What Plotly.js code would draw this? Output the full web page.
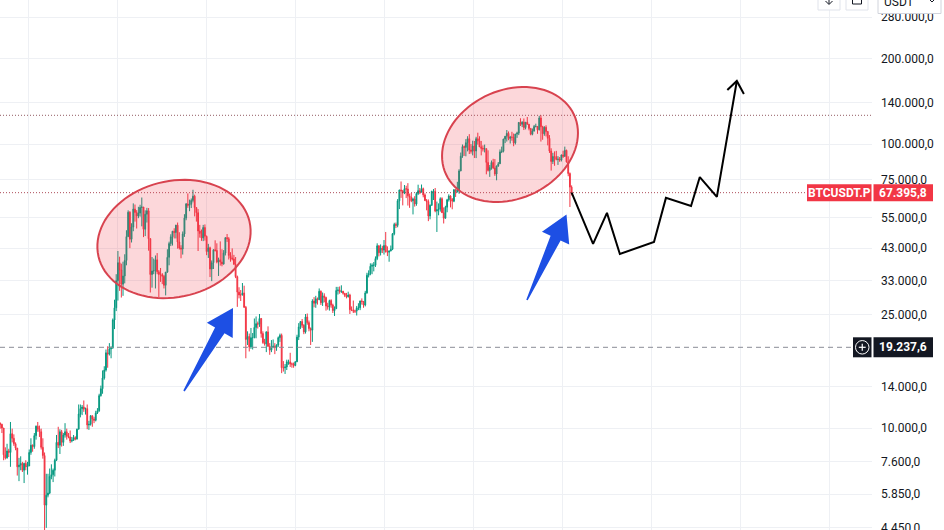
<!DOCTYPE html>
<html><head><meta charset="utf-8">
<script src="https://cdn.plot.ly/plotly-3.0.1.min.js"></script>
<style>html,body{margin:0;padding:0;background:#fff;overflow:hidden}#chart{width:944px;height:530px}</style>
</head><body><div id="chart"></div>
<script>
// BTCUSDT.P weekly candles, prices in thousands of USDT
const firstWeek = '2019-09-09';
const firstOpen = 10.4;
const closes = [
 10.3,10.0,8.05,7.85,8.3,8.2,9.55,9.2,8.8,8.5,7.3,7.4,7.5,7.1,7.5,7.3,7.35,
 8.2,8.7,8.6,9.4,10.15,9.9,9.7,8.55,8.0,5.35,5.8,5.9,6.75,6.85,7.1,7.7,8.9,8.7,9.7,8.9,9.45,9.7,9.35,9.3,9.0,9.05,9.25,9.15,9.9,11.2,11.7,11.85,11.65,11.7,10.25,10.3,11.05,10.75,10.65,11.3,11.5,13.0,13.75,15.0,16.0,18.4,18.2,19.0,19.15,24.0,26.5,33.0,
 38.2,36.0,32.1,34.3,38.9,47.2,57.5,46.2,51.0,59.0,57.4,55.8,57.1,59.8,60.0,50.1,56.6,58.2,46.4,34.7,35.7,35.8,39.1,35.5,34.7,34.7,34.2,31.8,35.4,39.9,44.6,47.1,49.3,48.8,51.8,45.2,43.0,42.7,48.2,54.9,61.5,60.8,61.3,63.3,65.5,59.7,57.3,49.4,48.4,46.7,50.8,47.3,
 41.8,43.1,36.3,38.2,42.4,42.2,38.4,39.1,38.4,37.8,41.3,46.8,46.4,40.5,39.7,39.4,37.7,34.1,30.1,29.4,29.4,29.9,26.6,20.5,21.0,19.3,20.8,20.8,22.6,23.3,23.2,24.3,21.5,20.0,19.8,21.8,19.4,18.8,19.3,19.4,19.2,19.6,20.8,21.2,16.3,16.3,16.4,17.1,17.1,16.8,16.8,16.6,
 17.1,20.9,22.7,23.7,23.0,21.8,24.6,23.5,22.4,22.1,28.0,27.5,28.5,28.3,30.3,27.6,29.2,28.8,26.9,26.7,28.1,27.1,25.9,26.3,30.5,30.6,30.2,30.3,29.8,29.3,29.0,29.4,26.1,26.0,25.8,25.8,26.5,26.5,28.0,27.9,27.1,29.9,34.5,35.0,37.1,37.4,37.4,39.5,43.8,41.4,43.0,42.3,
 43.9,41.7,41.6,42.0,42.6,48.3,52.1,51.7,63.1,68.9,68.4,67.2,69.6,69.4,65.7,64.9,63.1,64.0,61.5,66.9,68.5,67.7,69.6,66.2,63.2,62.7,55.8,60.8,68.2,68.2,58.1,58.7,59.0,64.2,57.3,54.8,59.9,63.6,65.6,63.9,62.9,69.0,67.9,68.7,80.4,90.6,97.9,97.3,101.1,104.4,95.2,94.3,98.3,
 94.5,104.4,102.6,97.7,96.5,96.1,96.3,86.1,80.7,82.6,86.1,82.4,78.4,83.7,85.2,93.8,94.3,104.1,106.5,109.0,104.6,105.7,105.6,100.9,108.4,109.2,119.1,117.3,119.4,114.2,119.3,117.4,113.5,108.2,111.1,115.3,115.3,112.2,123.5,115.0,108.7,114.5,110.6,104.7,94.5,86.8,90.4,90.3,88.2,88.4,87.8,91.5,
 90.5,95.0,86.5,78.7,70.5,67.3958
];
const highs = [
 10.45,10.35,10.0,8.55,8.8,8.45,10.5,9.95,9.5,8.9,8.5,7.85,7.95,7.6,7.55,7.7,7.6,
 8.4,9.2,8.75,9.6,10.2,10.5,10.2,9.95,9.2,8.2,6.9,6.9,7.2,7.45,7.2,7.8,9.45,10.1,9.9,9.85,9.6,10.4,9.95,9.6,9.8,9.3,9.45,9.35,9.95,12.1,12.1,12.05,12.5,11.8,12.1,10.6,11.1,11.05,10.95,11.5,11.75,13.2,14.1,15.95,16.5,18.9,19.4,19.9,19.4,24.3,28.3,34.8,
 42.0,40.1,37.9,38.5,40.9,49.7,58.4,58.0,52.6,61.8,61.2,58.5,60.1,61.1,64.8,57.5,58.4,59.6,59.5,46.6,40.0,39.5,40.5,41.3,36.0,36.6,35.1,34.6,35.4,42.6,45.3,48.1,49.4,50.5,51.9,52.9,48.9,44.0,49.2,56.6,62.0,67.0,63.7,64.3,69.0,66.3,59.4,59.0,51.9,50.0,51.9,52.1,
 47.6,44.5,43.5,38.9,42.6,45.8,44.7,39.8,45.4,42.6,42.3,46.9,48.2,47.0,41.6,42.9,40.7,40.0,34.4,31.3,30.6,32.4,31.7,26.9,21.9,21.5,22.5,21.6,24.3,24.7,23.7,25.2,24.4,21.9,20.6,21.9,22.8,19.9,20.4,20.5,19.9,19.7,21.0,21.5,21.5,17.2,16.8,17.4,17.4,18.4,17.0,17.0,
 17.2,21.3,23.4,23.8,24.2,23.2,25.2,25.3,23.9,22.6,28.4,28.9,29.2,28.8,31.0,30.5,30.0,29.8,29.0,27.6,28.3,28.4,27.4,26.8,31.4,31.4,31.5,31.8,30.4,29.9,29.9,30.2,29.7,26.8,28.1,26.1,26.9,27.5,28.1,28.6,28.0,30.4,35.2,35.9,38.0,38.0,38.4,40.2,44.7,44.0,44.3,43.8,
 45.9,49.0,43.6,42.2,43.9,48.6,52.8,52.9,64.0,69.0,73.8,68.9,71.7,71.3,72.8,66.9,67.2,64.7,65.5,67.7,71.9,70.0,72.0,70.2,67.0,64.0,63.8,61.3,68.4,69.4,70.0,62.7,61.8,64.9,64.9,59.8,60.6,64.1,66.5,66.0,64.5,69.4,69.5,73.6,81.5,93.3,99.6,98.8,104.0,106.5,108.3,99.9,102.7,
 102.5,106.0,109.6,106.5,102.5,98.9,99.5,96.5,95.0,84.3,87.5,88.7,88.5,83.9,86.4,95.7,97.9,104.3,106.5,112.0,110.7,106.8,110.4,108.9,108.5,110.5,119.5,123.2,120.2,123.0,119.3,124.5,117.6,113.5,113.4,116.7,117.9,115.4,125.7,126.2,115.9,115.5,116.4,111.2,107.5,96.6,93.1,94.2,94.6,90.6,90.0,91.8,
 94.7,97.9,95.5,90.5,79.4,71.5
];
const lows = [
 9.95,9.6,7.7,7.75,7.8,7.9,7.3,8.9,8.65,8.35,6.8,6.5,7.1,7.0,6.4,7.1,6.85,
 7.35,8.05,8.25,8.45,9.1,9.7,9.3,8.4,7.8,3.8,4.45,5.7,5.85,6.6,6.45,6.75,7.65,8.5,8.1,8.6,8.65,9.25,9.1,9.2,8.85,8.9,9.0,9.05,9.1,9.9,10.9,11.1,11.4,11.15,9.9,9.85,10.2,10.1,10.4,10.55,11.2,11.4,12.9,13.2,14.8,15.8,16.3,18.0,17.6,19.0,22.3,25.8,
 28.1,30.4,28.8,29.2,32.3,37.4,47.0,43.0,45.0,49.3,53.3,50.4,54.8,55.5,51.3,47.0,47.4,52.9,42.1,30.0,31.2,34.8,31.0,34.8,28.8,32.7,32.1,31.0,29.3,35.2,37.4,43.7,43.9,46.5,46.5,42.8,42.5,39.6,40.8,47.1,53.9,59.6,58.0,59.5,62.3,55.6,53.3,42.0,46.8,45.6,45.5,45.7,
 40.6,39.7,34.0,32.9,36.3,41.8,38.0,34.3,37.3,37.1,37.6,40.5,45.2,39.2,38.5,38.9,37.6,33.7,26.7,28.6,28.0,29.3,26.5,17.6,19.6,18.6,19.0,18.9,20.7,20.7,22.4,22.7,20.8,19.8,19.5,18.5,19.3,18.1,18.5,19.1,18.2,18.7,19.3,20.1,15.6,15.8,15.5,16.0,16.7,16.4,16.3,16.3,
 16.5,17.1,20.4,22.3,22.5,21.4,21.5,23.1,21.9,19.6,20.1,26.6,26.5,27.2,28.2,27.1,26.9,27.7,25.9,26.1,25.9,26.5,25.4,24.8,26.3,29.5,29.7,29.9,29.5,28.9,28.6,28.8,25.2,25.8,25.4,25.4,24.9,26.0,26.0,27.2,26.5,26.8,29.7,33.9,34.5,34.8,35.6,36.9,39.0,40.2,40.5,41.3,
 40.8,41.5,40.3,38.5,41.9,42.3,47.7,50.6,50.9,59.0,64.6,60.8,66.6,64.5,60.7,59.6,62.4,56.5,60.2,60.6,66.1,66.6,67.5,64.9,63.0,58.4,53.5,54.3,60.6,63.5,57.5,49.0,56.1,57.8,57.2,52.5,54.6,57.5,62.7,59.8,58.9,62.4,65.1,67.5,66.8,80.2,89.4,90.8,90.5,94.2,92.2,92.5,91.2,
 89.3,89.2,99.5,97.6,91.2,94.1,93.4,78.2,80.0,76.6,81.2,81.6,77.2,74.5,83.1,85.1,92.9,93.4,100.7,102.0,103.1,100.4,102.7,98.2,99.6,105.1,107.5,115.7,114.7,112.0,112.6,117.0,111.7,107.3,107.3,110.6,114.4,108.6,111.6,102.0,103.5,106.9,106.3,98.9,93.0,80.6,85.0,83.8,87.6,84.4,86.5,86.8,
 89.3,90.0,86.0,77.0,60.0,65.9
];
// price axis
const tickValues = [280,200,140,100,75,55,43,33,25,14,10,7.6,5.85,4.45];
const tickLabels = ['280.000,0','200.000,0','140.000,0','100.000,0','75.000,0','55.000,0','43.000,0','33.000,0','25.000,0','14.000,0','10.000,0','7.600,0','5.850,0','4.450,0'];
// price lines
const lastPrice = 67.3958, lastPriceText = '67.395,8', symbolText = 'BTCUSDT.P';
const highLinePrice = 126.2;
const crossPrice = 19.2376, crossPriceText = '19.237,6';
// hand-drawn projection path (date, price)
const projDates  = ['2026-02-09','2026-05-08','2026-07-04','2026-08-26','2027-01-13','2027-03-03','2027-06-14','2027-07-20','2027-09-28','2027-12-19'];
const projPrices = [67.4,44.5,57.2,41.0,45.2,64.6,60.5,76.5,65.1,166.7];
const headDates  = ['2027-11-10','2027-12-19','2028-01-17'];
const headPrices = [154.9,166.7,150.0];

// ---- build ----
const dates = closes.map((_, i) => new Date(Date.parse(firstWeek + 'T00:00:00Z') + i * 7 * 86400000).toISOString().slice(0, 10));
const opens = [firstOpen].concat(closes.slice(0, -1));

const W = 944, H = 530, PR = 72, PW = W - PR;
const xRange = ['2019-09-08 02:00', '2029-06-25 17:00'];
const yRange = [0.64085, 2.50704];
const px = (x) => x / PW;
const py = (y) => 1 - y / H;
const priceY = (v) => (Math.log10(v) - yRange[0]) / (yRange[1] - yRange[0]);

function ellipsePath(cx, cy, a, b, deg) {
  const t = deg * Math.PI / 180; let d = '';
  for (let i = 0; i <= 90; i++) {
    const f = i / 90 * 2 * Math.PI;
    const x = cx + a * Math.cos(f) * Math.cos(t) + b * Math.sin(f) * Math.sin(t);
    const y = cy - a * Math.cos(f) * Math.sin(t) + b * Math.sin(f) * Math.cos(t);
    d += (i ? ' L ' : 'M ') + px(x).toFixed(5) + ' ' + py(y).toFixed(5);
  }
  return d + ' Z';
}
function arrowPath(tx, ty, hx, hy, headLen, headHalf, shaftHalf) {
  const L = Math.hypot(hx - tx, hy - ty), dx = (hx - tx) / L, dy = (hy - ty) / L;
  const nx = -dy, ny = dx;
  const bx = hx - headLen * dx, by = hy - headLen * dy;
  const pts = [[tx - 0.8 * nx, ty - 0.8 * ny], [bx - shaftHalf * nx, by - shaftHalf * ny], [bx - headHalf * nx, by - headHalf * ny], [hx, hy],
               [bx + headHalf * nx, by + headHalf * ny], [bx + shaftHalf * nx, by + shaftHalf * ny], [tx + 0.8 * nx, ty + 0.8 * ny]];
  return pts.map((p, i) => (i ? 'L ' : 'M ') + px(p[0]).toFixed(5) + ' ' + py(p[1]).toFixed(5)).join(' ') + ' Z';
}

const red = '#F23645', green = '#089981', dark = '#131722';
const traces = [
  {type: 'scatter', mode: 'lines', x: xRange, y: [highLinePrice, highLinePrice], line: {color: 'rgba(120,50,60,0.8)', width: 1, dash: '1px,2px'}, hoverinfo: 'skip'},
  {type: 'scatter', mode: 'lines', x: xRange, y: [lastPrice, lastPrice], line: {color: 'rgba(160,45,60,0.85)', width: 1, dash: '1px,2px'}, hoverinfo: 'skip'},
  {type: 'scatter', mode: 'lines', x: xRange, y: [crossPrice, crossPrice], line: {color: '#8a8d96', width: 1, dash: '5px,4px'}, hoverinfo: 'skip'},
  {type: 'candlestick', x: dates, open: opens, high: highs, low: lows, close: closes,
   increasing: {line: {color: green, width: 1}, fillcolor: green},
   decreasing: {line: {color: red, width: 1}, fillcolor: red},
   whiskerwidth: 0, hoverinfo: 'skip'},
  {type: 'scatter', mode: 'lines', x: projDates, y: projPrices, line: {color: '#000', width: 2}, hoverinfo: 'skip'},
  {type: 'scatter', mode: 'lines', x: headDates, y: headPrices, line: {color: '#000', width: 2}, hoverinfo: 'skip'}
];

const ellStroke = {color: '#d8434f', width: 2};
const ellFill = 'rgba(242,54,69,0.2)';
const blue = '#1d4fe4';
const shapes = [
  {type: 'path', xref: 'paper', yref: 'paper', path: ellipsePath(174, 239, 77.5, 58, 13), fillcolor: ellFill, line: ellStroke, layer: 'above'},
  {type: 'path', xref: 'paper', yref: 'paper', path: ellipsePath(510, 144.5, 70.6, 54.2, 25), fillcolor: ellFill, line: ellStroke, layer: 'above'},
  {type: 'path', xref: 'paper', yref: 'paper', path: arrowPath(184, 391, 233, 308, 26, 15, 5.5), fillcolor: blue, line: {width: 0}, layer: 'above'},
  {type: 'path', xref: 'paper', yref: 'paper', path: arrowPath(527, 300, 566.5, 214.5, 26, 15, 5.5), fillcolor: blue, line: {width: 0}, layer: 'above'},
  // price labels
  {type: 'rect', xref: 'paper', yref: 'paper', x0: px(807), x1: px(871.5), y0: priceY(lastPrice) - 8.5 / H, y1: priceY(lastPrice) + 8.5 / H, fillcolor: red, line: {width: 0}, layer: 'above'},
  {type: 'rect', xref: 'paper', yref: 'paper', x0: px(873.5), x1: px(933), y0: priceY(lastPrice) - 8.5 / H, y1: priceY(lastPrice) + 8.5 / H, fillcolor: red, line: {width: 0}, layer: 'above'},
  {type: 'rect', xref: 'paper', yref: 'paper', x0: px(853), x1: px(871.5), y0: priceY(crossPrice) - 10 / H, y1: priceY(crossPrice) + 10 / H, fillcolor: dark, line: {width: 0}, layer: 'above'},
  {type: 'rect', xref: 'paper', yref: 'paper', x0: px(873.5), x1: px(933), y0: priceY(crossPrice) - 10 / H, y1: priceY(crossPrice) + 10 / H, fillcolor: dark, line: {width: 0}, layer: 'above'},
  {type: 'circle', xref: 'paper', yref: 'paper', x0: px(855.5), x1: px(869), y0: priceY(crossPrice) - 6.75 / H, y1: priceY(crossPrice) + 6.75 / H, line: {color: '#fff', width: 1}, layer: 'above'},
  {type: 'line', xref: 'paper', yref: 'paper', x0: px(858.8), x1: px(865.7), y0: priceY(crossPrice), y1: priceY(crossPrice), line: {color: '#fff', width: 1.2}, layer: 'above'},
  {type: 'line', xref: 'paper', yref: 'paper', x0: px(862.25), x1: px(862.25), y0: priceY(crossPrice) - 3.5 / H, y1: priceY(crossPrice) + 3.5 / H, line: {color: '#fff', width: 1.2}, layer: 'above'},
  // top-right toolbar
  {type: 'rect', xref: 'paper', yref: 'paper', x0: px(818), x1: px(840), y0: py(10), y1: py(-6), fillcolor: '#fff', line: {color: '#e0e3eb', width: 1}, layer: 'above'},
  {type: 'rect', xref: 'paper', yref: 'paper', x0: px(846), x1: px(868), y0: py(10), y1: py(-6), fillcolor: '#fff', line: {color: '#e0e3eb', width: 1}, layer: 'above'},
  {type: 'path', xref: 'paper', yref: 'paper', path: 'M ' + px(852.5) + ' ' + py(-2) + ' L ' + px(852.5) + ' ' + py(4) + ' L ' + px(861.5) + ' ' + py(4) + ' L ' + px(861.5) + ' ' + py(-2), line: {color: '#131722', width: 1}, layer: 'above'},
  {type: 'line', xref: 'paper', yref: 'paper', x0: px(829), x1: px(829), y0: py(-3), y1: py(4), line: {color: '#131722', width: 1}, layer: 'above'},
  {type: 'path', xref: 'paper', yref: 'paper', path: 'M ' + px(825.5) + ' ' + py(1) + ' L ' + px(829) + ' ' + py(4.5) + ' L ' + px(832.5) + ' ' + py(1), line: {color: '#131722', width: 1}, layer: 'above'},
  {type: 'rect', xref: 'paper', yref: 'paper', x0: px(878), x1: px(941), y0: py(13.5), y1: py(-6), fillcolor: '#fff', line: {color: '#d1d4dc', width: 1}, layer: 'above'},
  {type: 'path', xref: 'paper', yref: 'paper', path: 'M ' + px(929) + ' ' + py(-1) + ' L ' + px(932) + ' ' + py(2) + ' L ' + px(935) + ' ' + py(-1), line: {color: '#131722', width: 1}, layer: 'above'}
];

const lblFont = {family: 'Roboto, Arial, sans-serif', size: 12, color: '#fff', weight: 'bold'};
const annotations = [
  {xref: 'paper', yref: 'paper', x: px(839.3), y: priceY(lastPrice), text: symbolText, showarrow: false, font: lblFont, xanchor: 'center', yanchor: 'middle'},
  {xref: 'paper', yref: 'paper', x: px(903.3), y: priceY(lastPrice), text: lastPriceText, showarrow: false, font: lblFont, xanchor: 'center', yanchor: 'middle'},
  {xref: 'paper', yref: 'paper', x: px(903.3), y: priceY(crossPrice), text: crossPriceText, showarrow: false, font: lblFont, xanchor: 'center', yanchor: 'middle'},
  {xref: 'paper', yref: 'paper', x: px(882), y: py(1.5), text: 'USDT', showarrow: false, font: {family: 'Roboto, Arial, sans-serif', size: 12, color: '#131722'}, xanchor: 'left', yanchor: 'middle'}
];

const layout = {
  width: W, height: H, margin: {l: 0, r: PR, t: 0, b: 0},
  paper_bgcolor: '#fff', plot_bgcolor: '#fff', showlegend: false,
  xaxis: {type: 'date', range: xRange, showticklabels: false, showgrid: true, gridcolor: '#eef0f4', gridwidth: 1,
          tick0: '2020-01-01', dtick: 'M12', zeroline: false, showline: false, ticks: '', rangeslider: {visible: false}, fixedrange: true},
  yaxis: {type: 'log', side: 'right', range: yRange, tickmode: 'array', tickvals: tickValues, ticktext: tickLabels,
          showgrid: true, gridcolor: '#eef0f4', gridwidth: 1, zeroline: false, showline: false, ticks: '', ticklabelstandoff: 8,
          ticklabeloverflow: 'allow',
          tickfont: {family: 'Roboto, Arial, sans-serif', size: 12, color: '#131722'}, fixedrange: true},
  shapes: shapes, annotations: annotations
};

Plotly.newPlot('chart', traces, layout, {displayModeBar: false, staticPlot: true});
</script>
</body></html>
